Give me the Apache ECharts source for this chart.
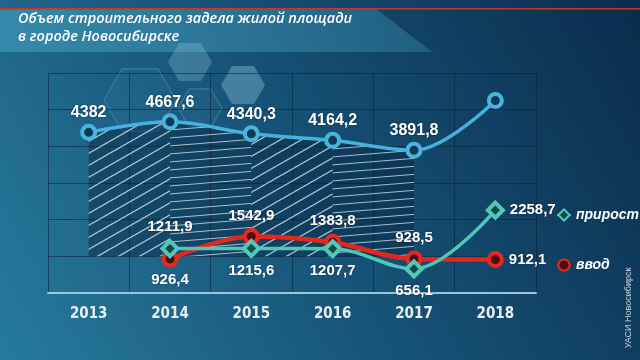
<!DOCTYPE html>
<html><head><meta charset="utf-8">
<script src="https://cdn.jsdelivr.net/npm/echarts@6/dist/echarts.min.js"></script>
<style>html,body{margin:0;padding:0;background:#0f4466;}#c{width:640px;height:360px;}</style>
</head><body><div id="c"></div>
<script>
// ---- data ----
const years = ['2013','2014','2015','2016','2017','2018'];
const zadel = [4382, 4667.6, 4340.3, 4164.2, 3891.8, 5250];
const zadelLabeled = [true, true, true, true, true, false];
const prirost = [null, 1211.9, 1215.6, 1207.7, 656.1, 2258.7];
const vvod = [null, 926.4, 1542.9, 1383.8, 928.5, 912.1];
const titleLines = ['Объем строительного задела жилой площади', 'в городе Новосибирске'];
const source = 'УАСИ Новосибирск';

// ---- helpers ----
function fmt(v){ return String(v).replace('.', ','); }
function patternDiag(){
  const w=21,h=12,c=document.createElement('canvas');c.width=w;c.height=h;
  const g=c.getContext('2d');
  g.fillStyle='rgba(6,28,52,0.4)';g.fillRect(0,0,w,h);
  g.strokeStyle='rgba(215,232,245,0.8)';g.lineWidth=1.2;
  g.beginPath();g.moveTo(-w,2*h);g.lineTo(2*w,-h);g.moveTo(-w,h);g.lineTo(w,-h);g.moveTo(0,2*h);g.lineTo(2*w,0);g.stroke();
  return c;
}
function patternFlat(){
  const w=100,h=8,c=document.createElement('canvas');c.width=w;c.height=h;
  const g=c.getContext('2d');
  g.fillStyle='rgba(6,28,52,0.4)';g.fillRect(0,0,w,h);
  g.strokeStyle='rgba(215,232,245,0.75)';g.lineWidth=1;
  g.beginPath();g.moveTo(0,h-0.5);g.lineTo(w,-0.5);g.moveTo(-w,h-0.5);g.lineTo(0,-0.5);g.moveTo(0,2*h-0.5);g.lineTo(w,h-0.5);g.stroke();
  return c;
}
const pats=[patternDiag(),patternFlat()];

function hex(cx,cy,r){const p=[];for(let i=0;i<6;i++){const a=Math.PI/3*i;p.push([cx+r*Math.cos(a),cy+r*Math.sin(a)]);}return p;}

const chart = echarts.init(document.getElementById('c'));

const valueLabel = {show:true,color:'#fff',fontWeight:'bold',fontSize:15,fontFamily:'Liberation Sans, Arial, sans-serif',
  textShadowColor:'rgba(0,0,0,0.35)',textShadowBlur:3,formatter:p=>fmt(p.value)};

// hatched segments 2013-2017
const hatchSeries=[];
for(let i=0;i<4;i++){
  hatchSeries.push({type:'line',data:zadel.map((v,k)=>(k===i||k===i+1)?v:null),
    symbol:'none',lineStyle:{width:0},silent:true,z:1,
    areaStyle:{origin:1000,opacity:1,color:{image:pats[i%2],repeat:'repeat'}}});
}

const prirostPos=[null,'top','bottom','bottom','bottom','right'];
const vvodPos=[null,'bottom','top','top','top','right'];

chart.setOption({
  backgroundColor:new echarts.graphic.LinearGradient(0,1,1,0,[
    {offset:0,color:'#277a9c'},{offset:0.45,color:'#17557a'},{offset:1,color:'#0a2c4c'}]),
  animation:false,
  graphic:[
    {type:'polygon',shape:{points:[[0,8],[375,8],[432,52],[0,52]]},style:{fill:new echarts.graphic.LinearGradient(0,0,1,0,[{offset:0,color:'rgba(70,165,195,0.55)'},{offset:1,color:'rgba(70,165,195,0.30)'}])},z:-1},
    {type:'rect',shape:{x:0,y:8,width:640,height:1.5},style:{fill:'#c8352c'},z:-1},
    {type:'polygon',shape:{points:hex(140,100,36)},style:{fill:'rgba(120,190,215,0.06)',stroke:'rgba(160,210,230,0.3)',lineWidth:1},z:-1},
    {type:'polygon',shape:{points:hex(190,62,22)},style:{fill:'rgba(150,200,220,0.30)'},z:-1},
    {type:'polygon',shape:{points:hex(243,85,22)},style:{fill:'rgba(150,200,220,0.38)'},z:-1},
    {type:'polygon',shape:{points:hex(200,108,22)},style:{fill:'rgba(150,200,220,0.05)',stroke:'rgba(160,210,230,0.3)',lineWidth:1},z:-1},
    {type:'text',left:18,top:10,style:{text:titleLines.join('\n'),fill:'#fff',font:'italic 600 14.5px "Open Sans", sans-serif',lineHeight:18}},
    {type:'text',x:629,y:308,rotation:Math.PI/2,style:{text:source,fill:'rgba(220,230,240,0.85)',font:'9px "Liberation Sans", Arial, sans-serif',align:'center',verticalAlign:'middle'}}
  ],
  grid:{left:48,right:104,top:73,bottom:67},
  legend:{data:['прирост','ввод'],orient:'vertical',left:551,top:203,itemGap:36,itemWidth:14,itemHeight:14,
    textStyle:{color:'#fff',fontStyle:'italic',fontWeight:'bold',fontSize:14,fontFamily:'Liberation Sans, Arial, sans-serif'},
    selectedMode:false},
  xAxis:{type:'category',data:years,boundaryGap:true,
    axisLine:{show:true,lineStyle:{color:'#9cc6d8',width:2}},axisTick:{show:false},
    axisLabel:{color:'#e6eef3',fontWeight:'bold',fontSize:15,fontFamily:'"Liberation Sans Narrow","DejaVu Sans Condensed",sans-serif',margin:14},
    splitLine:{show:true,lineStyle:{color:'rgba(8,32,55,0.55)',width:1}}},
  yAxis:{type:'value',min:0,max:6000,interval:1000,axisLabel:{show:false},axisLine:{show:false},axisTick:{show:false},
    splitLine:{show:true,lineStyle:{color:'rgba(8,32,55,0.55)',width:1}}},
  series:[
    ...hatchSeries,
    {name:'задел',type:'line',data:zadel.map((v,i)=>({value:v,label:{show:zadelLabeled[i]}})),smooth:0.35,z:5,
      symbol:'circle',symbolSize:13,lineStyle:{color:'#45b1dc',width:3.5},
      itemStyle:{color:'#0f3a56',borderColor:'#4ab4df',borderWidth:4},
      label:Object.assign({},valueLabel,{position:'top',distance:3,fontSize:16})},
    {name:'ввод',type:'line',data:vvod.map((v,i)=>({value:v,label:{position:vvodPos[i]}})),smooth:0.35,z:6,
      symbol:'circle',symbolSize:13,lineStyle:{color:'#e4261d',width:4.5},
      itemStyle:{color:'#4a0f12',borderColor:'#e8281e',borderWidth:4},
      label:Object.assign({},valueLabel,{distance:5})},
    {name:'прирост',type:'line',data:prirost.map((v,i)=>({value:v,label:{position:prirostPos[i]}})),smooth:0.35,z:7,
      symbol:'diamond',symbolSize:15,lineStyle:{color:'#4fc6b6',width:3.5},
      itemStyle:{color:'#124a4a',borderColor:'#52c9b8',borderWidth:4},
      label:Object.assign({},valueLabel,{distance:5})}
  ]
});
</script></body></html>
